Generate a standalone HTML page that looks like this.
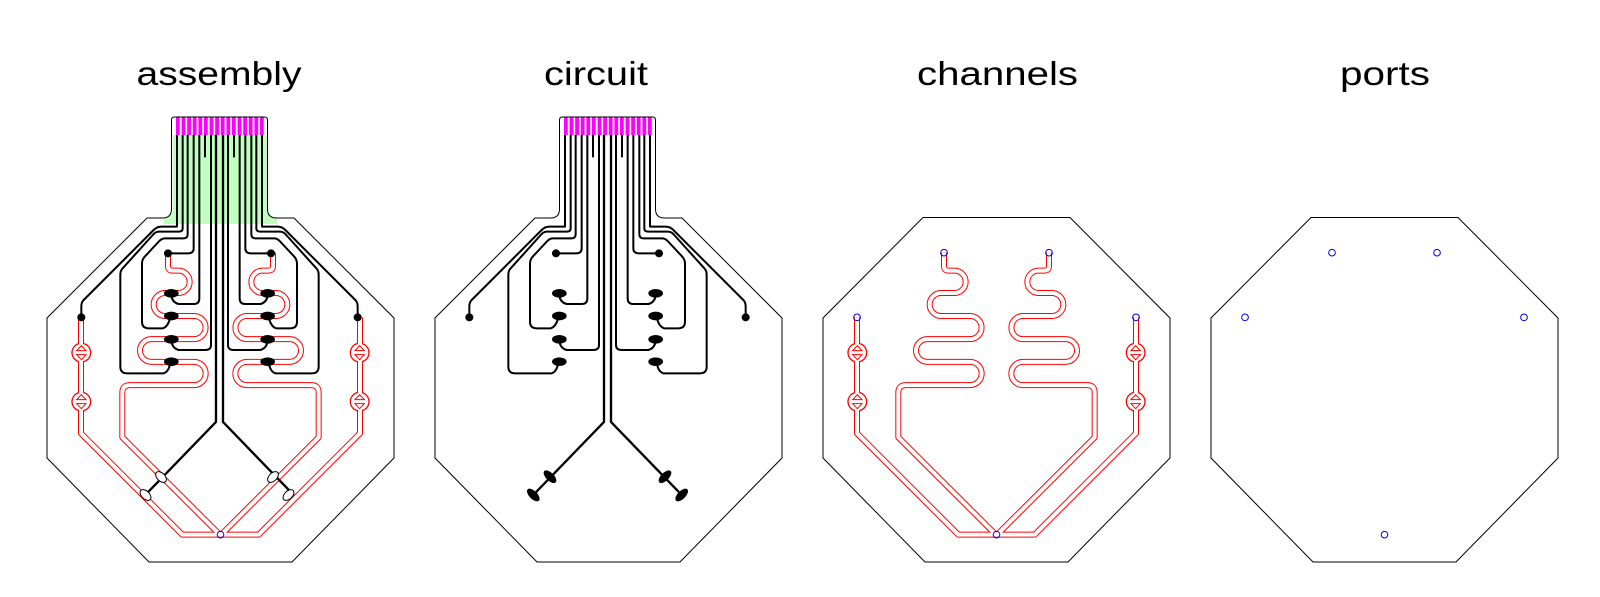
<!DOCTYPE html>
<html><head><meta charset="utf-8"><style>
html,body{margin:0;padding:0;background:#fff;}
svg{display:block;}
text{font-family:"Liberation Sans",Arial,sans-serif;font-size:33px;fill:#000;}
</style></head><body>
<svg width="1600" height="597" viewBox="0 0 1600 597" xmlns="http://www.w3.org/2000/svg">
<defs>
  <pattern id="stripes" x="564" y="0" width="5.6" height="20" patternUnits="userSpaceOnUse">
    <rect x="0" y="0" width="5.6" height="20" fill="#ff00ff"/>
    <rect x="3.8" y="0" width="1.8" height="20" fill="#fff"/>
  </pattern>
  <pattern id="stripesA" x="176" y="0" width="5.6" height="20" patternUnits="userSpaceOnUse">
    <rect x="0" y="0" width="5.6" height="20" fill="#ff00ff"/>
    <rect x="3.8" y="0" width="1.8" height="20" fill="#fff"/>
  </pattern>
  <!-- octagon with tab (local coords) -->
  <path id="octTab" d="M-73.5,218 L-58,218 Q-49,218 -49,209 L-49,120 Q-49,117 -46,117 L44,117 Q47,117 47,120 L47,209 Q47,218 56,218 L73.5,218 L173.5,318 L173.5,458 L71.5,562 L-71.5,562 L-173.5,458 L-173.5,318 Z" fill="none" stroke="#000" stroke-width="1"/>
  <path id="oct" d="M-73.5,217.5 L73.5,217.5 L173.5,318 L173.5,458 L71.5,562 L-71.5,562 L-173.5,458 L-173.5,318 Z" fill="none" stroke="#000" stroke-width="1"/>

  <!-- channel half centerlines (zoom2 coords) -->
  <g id="chHalf">
    <path d="M432,158 L432,198 Q432,212 446,212 L463.5,212 A33.5,33.5 0 0 1 463.5,279 L423.5,279 A34.5,34.5 0 0 0 423.5,348 L510,348 A34.75,34.75 0 0 1 510,417.5 L382,417.5 A34,34 0 0 0 382,485.5 L510,485.5 A35,35 0 0 1 510,555.5 L318,555.5 Q295,555.5 295,578 L295,712 L589.5,1006"/>
    <path d="M171,352 L171,700 L475,1004 L589.5,1004"/>
  </g>
  <g id="bulbs">
    <circle cx="172" cy="458" r="30"/>
    <circle cx="172" cy="605" r="30"/>
  </g>
  <g id="chan">
    <g fill="none" stroke="#f00" stroke-width="18" stroke-linejoin="round">
      <use href="#chHalf"/>
      <use href="#chHalf" transform="translate(1179,0) scale(-1,1)"/>
    </g>
    <g fill="#f00">
      <use href="#bulbs"/>
      <use href="#bulbs" transform="translate(1179,0) scale(-1,1)"/>
    </g>
    <g fill="#fff" transform="translate(0,0)">
      <circle cx="172" cy="458" r="26"/><circle cx="172" cy="605" r="26"/>
      <circle cx="1007" cy="458" r="26"/><circle cx="1007" cy="605" r="26"/>
    </g>
    <g fill="none" stroke="#fff" stroke-width="12" stroke-linejoin="round">
      <use href="#chHalf"/>
      <use href="#chHalf" transform="translate(1179,0) scale(-1,1)"/>
    </g>
    <g fill="none" stroke="#f00" stroke-width="3">
      <path d="M158,452 L186,452 L172,437 Z M158,464 L186,464 L172,479 Z"/>
      <path d="M158,599 L186,599 L172,584 Z M158,611 L186,611 L172,626 Z"/>
      <path d="M993,452 L1021,452 L1007,437 Z M993,464 L1021,464 L1007,479 Z"/>
      <path d="M993,599 L1021,599 L1007,584 Z M993,611 L1021,611 L1007,626 Z"/>
    </g>
  </g>
  <g id="ports" fill="none" stroke="#00f" stroke-width="3">
    <circle cx="432" cy="158" r="10"/>
    <circle cx="747" cy="158" r="10"/>
    <circle cx="171" cy="352" r="10"/>
    <circle cx="1008" cy="352" r="10"/>
    <circle cx="589.5" cy="1004" r="10"/>
  </g>

  <!-- circuit half (zoom3 coords) -->
  <g id="circHalf">
    <g fill="none" stroke="#000" stroke-width="6" stroke-linejoin="round">
      <path d="M435,105 L435,380 L388,380 Q375,380 365,390 L155,600 Q148,607 148,620 L148,650"/>
      <path d="M452,105 L452,385 Q452,395 440,395 L382,395 Q372,395 365,402 L272,505 Q265,512 265,525 L265,800 Q265,820 285,820 L395,820 Q410,815 414,792"/>
      <path d="M467,105 L467,402 Q467,415 455,415 L398,415 Q390,415 382,423 L340,468 Q330,478 330,490 L330,665 Q330,685 350,685 L392,685 Q408,680 414,655"/>
      <path d="M485,105 L485,445 Q485,460 468,460 L408,460"/>
      <path d="M502,105 L502,595 Q502,612 485,612 L440,612 Q422,608 418,588"/>
      <path d="M519,105 L519,172"/>
      <path d="M537,105 L537,735 Q537,750 520,750 L440,750 Q422,745 418,725"/>
      <path d="M552,105 L552,966 L340,1185" stroke-width="7"/>
    </g>
    <g fill="#000">
      <circle cx="148" cy="652" r="12"/>
      <circle cx="408" cy="460" r="12"/>
      <ellipse cx="418" cy="785" rx="22" ry="13"/>
      <ellipse cx="418" cy="648" rx="22" ry="13"/>
      <ellipse cx="418" cy="580" rx="22" ry="13"/>
      <ellipse cx="418" cy="718" rx="22" ry="13"/>
    </g>
  </g>
  <g id="circ">
    <use href="#circHalf"/>
    <use href="#circHalf" transform="translate(1125,0) scale(-1,1)"/>
  </g>
</defs>

<!-- titles -->
<text x="136.5" y="85" textLength="165" lengthAdjust="spacingAndGlyphs">assembly</text>
<text x="544" y="85" textLength="104" lengthAdjust="spacingAndGlyphs">circuit</text>
<text x="917" y="85" textLength="161" lengthAdjust="spacingAndGlyphs">channels</text>
<text x="1340" y="85" textLength="90" lengthAdjust="spacingAndGlyphs">ports</text>

<!-- ===== assembly ===== -->
<path d="M173,135 L268,135 L268,210 Q268,217 277,218 L277,224 L164,224 L164,218 Q173,217 173,210 Z" fill="#c0ffc0"/>
<rect x="176" y="117" width="88" height="18" fill="url(#stripesA)"/>
<use href="#octTab" transform="translate(220.5,0)"/>
<g transform="translate(24,200) scale(0.33333)">
  <use href="#chan"/>
  <circle cx="589.5" cy="1004" r="10" fill="none" stroke="#00f" stroke-width="3"/>
</g>
<g transform="translate(32,100) scale(0.33333)">
  <use href="#circ"/>
</g>
<g fill="#fff" stroke="#000" stroke-width="1">
  <ellipse cx="161" cy="477" rx="6.5" ry="4" transform="rotate(45 161 477)"/>
  <ellipse cx="145.5" cy="495" rx="6.5" ry="4" transform="rotate(45 145.5 495)"/>
  <ellipse cx="273" cy="477" rx="6.5" ry="4" transform="rotate(-45 273 477)"/>
  <ellipse cx="288.5" cy="495" rx="6.5" ry="4" transform="rotate(-45 288.5 495)"/>
</g>

<!-- ===== circuit ===== -->
<rect x="564" y="117" width="88" height="18" fill="url(#stripes)"/>
<use href="#octTab" transform="translate(608.5,0)"/>
<g transform="translate(420,100) scale(0.33333)">
  <use href="#circ"/>
</g>
<g fill="#000">
  <ellipse cx="550" cy="476.7" rx="8" ry="4" transform="rotate(45 550 476.7)"/>
  <ellipse cx="533.3" cy="495" rx="8" ry="4" transform="rotate(45 533.3 495)"/>
  <ellipse cx="665" cy="476.7" rx="8" ry="4" transform="rotate(-45 665 476.7)"/>
  <ellipse cx="681.7" cy="495" rx="8" ry="4" transform="rotate(-45 681.7 495)"/>
</g>

<!-- ===== channels ===== -->
<use href="#oct" transform="translate(996.5,0)"/>
<g transform="translate(800,200) scale(0.33333)">
  <use href="#chan"/>
  <use href="#ports"/>
</g>

<!-- ===== ports ===== -->
<use href="#oct" transform="translate(1384.5,0)"/>
<g transform="translate(1188,200) scale(0.33333)">
  <use href="#ports"/>
</g>
</svg>
</body></html>
